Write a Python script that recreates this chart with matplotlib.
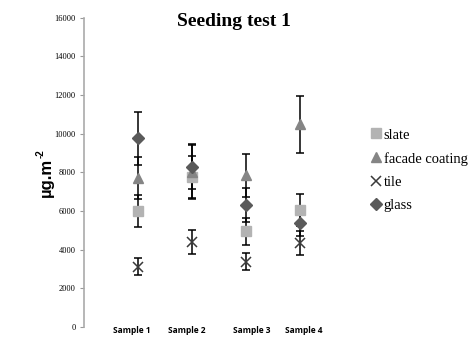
import numpy as np
import matplotlib
matplotlib.use("Agg")
import matplotlib.pyplot as plt

# Seeding test 1 - mean deposit per sample with error bars
samples = ["Sample 1", "Sample 2", "Sample 3", "Sample 4"]
label_pos = [0.88, 1.9, 3.1, 4.07]

slate = [6000, 7750, 4960, 6050]
slate_err = [850, 1100, 700, 850]
facade = [7700, 8000, 7850, 10480]
facade_err = [1100, 1400, 1120, 1460]
tile = [3120, 4410, 3380, 4360]
tile_err = [450, 620, 450, 620]
glass = [9750, 8290, 6300, 5390]
glass_err = [1350, 1150, 880, 670]

x = np.arange(1, len(samples) + 1)

fig = plt.figure(figsize=(4.74, 3.45), dpi=100)
ax = fig.add_axes([0.177, 0.052, 0.63, 0.897])

eb = dict(ecolor="black", elinewidth=1.1, capsize=2.6, capthick=1.1, linestyle="none")
ax.errorbar(x, slate, yerr=slate_err, marker="s", ms=7, color="#b3b3b3", label="slate", **eb)
ax.errorbar(x, facade, yerr=facade_err, marker="^", ms=7.5, color="#858585", label="facade coating", **eb)
ax.errorbar(x, tile, yerr=tile_err, marker="x", ms=7, mew=1.1, color="#3a3a3a", label="tile", **eb)
ax.errorbar(x, glass, yerr=glass_err, marker="D", ms=6, color="#5a5a5a", label="glass", **eb)

ax.set_ylim(0, 16000)
ax.set_xlim(0, 5.52)
ax.set_yticks(range(0, 16001, 2000))
ax.set_yticklabels([str(v) for v in range(0, 16001, 2000)], family="Liberation Serif", fontsize=6)
ax.set_xticks(label_pos)
ax.set_xticklabels(samples, family="Open Sans", fontweight="bold", fontsize=6)
ax.tick_params(axis="x", length=0, pad=-1)
ax.tick_params(axis="y", length=3, width=0.8, color="#999999", pad=3)

for s in ["top", "right", "bottom"]:
    ax.spines[s].set_visible(False)
ax.spines["left"].set_color("#aaaaaa")
ax.spines["left"].set_linewidth(1.2)

# y label with a small superscript, drawn as two texts
fig.text(46 / 474, 1 - 177 / 345, "µg.m", family="Liberation Sans", fontweight="bold",
         fontsize=12, rotation=90, ha="center", va="center")
fig.text(41 / 474, 1 - 154 / 345, "-2", family="Liberation Sans", fontweight="bold",
         fontsize=7, rotation=90, ha="center", va="center")

fig.text(0.494, 0.937, "Seeding test 1", family="Liberation Serif", fontweight="bold",
         fontsize=14, ha="center", va="center")

handles, labels = ax.get_legend_handles_labels()
handles = [h[0] for h in handles]
fig.legend(handles, labels, loc="upper left", bbox_to_anchor=(0.765, 0.645), frameon=False,
           prop={"family": "Liberation Serif", "size": 10.5}, handletextpad=0.05,
           handlelength=1.0, labelspacing=0.7, borderaxespad=0)

fig.savefig("out.png", dpi=100)
